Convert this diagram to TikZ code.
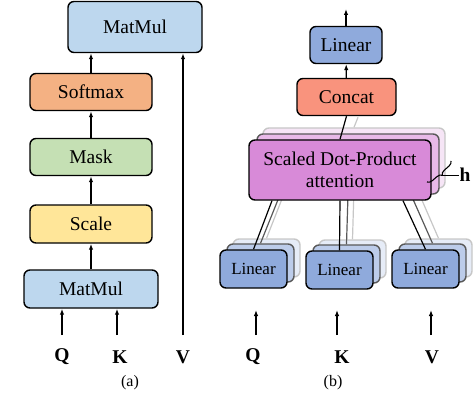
\documentclass[tikz,border=0pt]{standalone}
\usepackage{fontspec}
\setmainfont{Liberation Serif}
\usetikzlibrary{arrows.meta,positioning,calc,decorations.pathreplacing}
\definecolor{mmblue}{HTML}{BDD7EE}
\definecolor{smorange}{HTML}{F4B183}
\definecolor{mkgreen}{HTML}{C5E0B4}
\definecolor{scyellow}{HTML}{FFE699}
\definecolor{linblue}{HTML}{8FAADC}
\definecolor{ccsalmon}{HTML}{F9937D}
\definecolor{sdorchid}{HTML}{D88AD8}
\tikzset{
  blk/.style={draw, line width=1.4pt, rounded corners=6pt, align=center,
              inner sep=2pt, font=\fontsize{19.5}{22}\selectfont},
  lin/.style={blk, minimum width=67pt, minimum height=38pt,
              font=\fontsize{17}{19}\selectfont},
  back1/.style={draw=black!65, fill=#1!60!white},
  back2/.style={draw=black!22, fill=#1!22!white},
  sig/.style={-{Latex[length=6pt,width=4.5pt]}, line width=1.3pt},
  wire/.style={line width=1.2pt},
  lbl/.style={font=\bfseries\fontsize{19.5}{22}\selectfont, inner sep=0pt},
  subcap/.style={font=\fontsize{16}{19}\selectfont, inner sep=0pt},
}

\begin{document}
\begin{tikzpicture}[x=1pt,y=-1pt]
  \useasboundingbox (0,0) rectangle (474,417);
  % (a) scaled dot-product attention
  \node[blk,fill=mmblue,minimum width=134pt,minimum height=51pt] (mmtop) at (135,27) {MatMul};
  \node[blk,fill=smorange,minimum width=122pt,minimum height=37pt] (softmax) at (91,92) {Softmax};
  \node[blk,fill=mkgreen,minimum width=122pt,minimum height=37pt] (mask) at (91,157) {Mask};
  \node[blk,fill=scyellow,minimum width=122pt,minimum height=38pt] (scale) at (91,224) {Scale};
  \node[blk,fill=mmblue,minimum width=134pt,minimum height=38pt] (mmbot) at (91,289) {MatMul};
  \draw[sig] (mmbot) -- (scale);
  \draw[sig] (scale) -- (mask);
  \draw[sig] (mask) -- (softmax);
  \draw[sig] (softmax) -- (softmax |- mmtop.south);
  \coordinate (qa) at (62,335);
  \coordinate (ka) at (117,335);
  \coordinate (va) at (183,335);
  \draw[sig] (qa) -- (qa |- mmbot.south);
  \draw[sig] (ka) -- (ka |- mmbot.south);
  \draw[sig] (va) -- (va |- mmtop.south);
  \node[lbl] (qla) at (62,357) {Q};
  \node[lbl] (kla) at (120,357) {K};
  \node[lbl] (vla) at (183,357) {V};
  \node[subcap] (capa) at (130,383) {(a)};

  % (b) multi-head attention, stacked copies first
  \node[blk,back2=sdorchid,minimum width=182pt,minimum height=60pt] (sdpa2) at (354,158) {};
  \node[blk,back1=sdorchid,minimum width=182pt,minimum height=60pt] (sdpa1) at (348,164) {};
  \draw[wire,black!22] (sdpa2.north) -- ($(sdpa2.north)+(4,-10)$);
  \foreach \n/\x/\y/\d in {lq/253.5/269/-68, lk/339.5/270/0, lv/425.5/269/63} {
    \node[lin,back2=linblue] (\n2) at (\x+13,\y-11) {};
    \node[lin,back1=linblue] (\n1) at (\x+7,\y-6) {};
    \draw[wire,black!22] (\n2.north) -- ($(sdpa2.south)+(\d,0)$);
    \draw[wire,black!65] (\n1.north) -- ($(sdpa1.south)+(\d,0)$);
  }
  \node[blk,fill=sdorchid,minimum width=182pt,minimum height=60pt] (sdpa) at (340,170)
    {Scaled Dot-Product\\attention};
  \node[lin,fill=linblue] (lq) at (253.5,269) {Linear};
  \node[lin,fill=linblue] (lk) at (339.5,270) {Linear};
  \node[lin,fill=linblue] (lv) at (425.5,269) {Linear};
  \draw[wire] (lq.north) -- ($(sdpa.south)+(-68,0)$);
  \draw[wire] (lk.north) -- ($(sdpa.south)+(0,0)$);
  \draw[wire] (lv.north) -- ($(sdpa.south)+(63,0)$);
  \node[blk,fill=ccsalmon,minimum width=99pt,minimum height=37pt] (concat) at (346.5,97) {Concat};
  \draw[wire] (sdpa.north) -- (concat.south);
  \node[blk,fill=linblue,minimum width=72pt,minimum height=37pt] (lintop) at (346,45) {Linear};
  \coordinate (outb) at (346,9);
  \draw[sig] (concat) -- (lintop);
  \draw[sig] (lintop) -- (outb);
  \coordinate (qb) at (256,335);
  \coordinate (kb) at (337,335);
  \coordinate (vb) at (431,335);
  \draw[sig] (qb) -- ++(0,-25);
  \draw[sig] (kb) -- ++(0,-25);
  \draw[sig] (vb) -- ++(0,-25);
  \node[lbl] (qlb) at (253,357) {Q};
  \node[lbl] (klb) at (342,357) {K};
  \node[lbl] (vlb) at (432,357) {V};
  \node[subcap] (capb) at (333,383) {(b)};

  % number of heads
  \coordinate (bra) at (451,161);
  \coordinate (brb) at (427,182);
  \draw[line width=1.1pt, decorate, decoration={brace, amplitude=5pt}] (bra) -- (brb);
  \coordinate (brtip) at ($(bra)!0.5!(brb)+(3.3,3.8)$);
  \node[lbl] (hh) at (465,175) {h};
  \draw[line width=1.1pt] (brtip) -- (brtip -| hh.west);
\end{tikzpicture}
\end{document}
